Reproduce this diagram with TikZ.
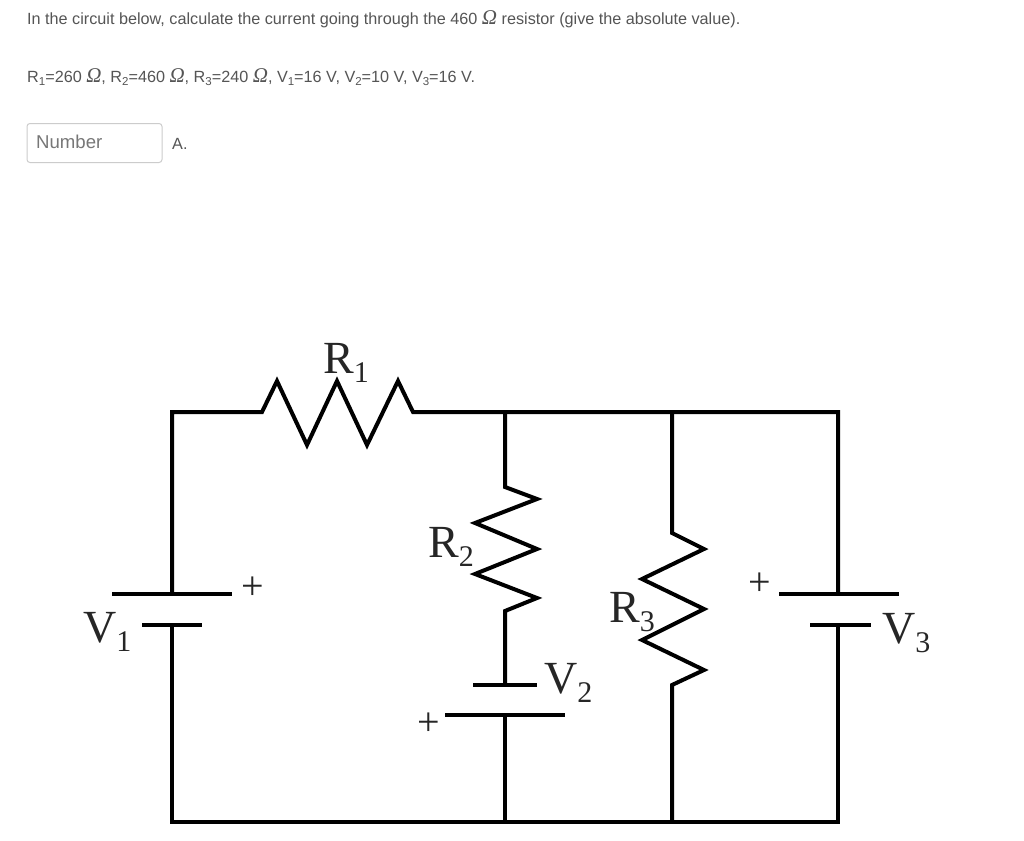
\documentclass[tikz,border=0pt]{standalone}
\usepackage{fontspec}
\setmainfont{Liberation Sans}
\newfontfamily\labfont{Liberation Serif}
\definecolor{txtgray}{HTML}{555555}
\definecolor{phgray}{HTML}{777777}
\definecolor{boxgray}{HTML}{CCCCCC}
\newcommand{\ohm}{{\labfont\itshape\fontsize{21}{18}\selectfont Ω}}
\newcommand{\lab}[2]{{\labfont\fontsize{46}{46}\selectfont #1\raisebox{-9.5pt}{\fontsize{30}{30}\selectfont #2}}}
\newcommand{\sbs}[1]{\raisebox{-3pt}{\fontsize{11.5}{11.5}\selectfont #1}}
\tikzset{
  wire/.style={line width=4pt,black,line join=miter},
  plate/.style={line width=4pt,black},
  txt/.style={anchor=base west,inner sep=0pt,text=txtgray,font=\fontsize{16.2}{18}\selectfont},
  ph/.style={anchor=base west,inner sep=0pt,text=phgray,font=\fontsize{18.6}{20}\selectfont},
  lbl/.style={anchor=base west,inner sep=0pt,text=black!85},
  plussign/.style={inner sep=0pt,text=black!85,font=\labfont\fontsize{40}{40}\selectfont},
  inputbox/.style={draw=boxgray,line width=1pt,rounded corners=3pt,minimum width=135pt,minimum height=39pt,inner sep=0pt,anchor=north west}
}
\begin{document}
\begin{tikzpicture}[x=1pt,y=-1pt]
\useasboundingbox[fill=white] (0,0) rectangle (1024,840);
% text
\node[txt] (q1) at (27,25) {In the circuit below, calculate the current going through the 460 \ohm\ resistor (give the absolute value).};
\node[txt] (q2) at (27,83) {R\sbs{1}=260 \ohm, R\sbs{2}=460 \ohm, R\sbs{3}=240 \ohm, V\sbs{1}=16 V, V\sbs{2}=10 V, V\sbs{3}=16 V.};
\node[inputbox] (box) at (26.5,123) {};
\node[ph] (num) at (36,148) {Number};
\node[txt] (unit) at (172,149) {A.};
% junctions
\coordinate (tl) at (172,412);
\coordinate (tm) at (505,412);
\coordinate (tn) at (672,412);
\coordinate (tr) at (838,412);
\coordinate (bl) at (172,822);
\coordinate (bm) at (505,822);
\coordinate (bn) at (672,822);
\coordinate (br) at (838,822);
% R1
\coordinate (r1a) at (262,412);
\coordinate (r1b) at (413,412);
% plates
\coordinate (v1t) at (172,594);
\coordinate (v1b) at (172,625);
\coordinate (v3t) at (838,594);
\coordinate (v3b) at (838,625);
\coordinate (v2t) at (505,685);
\coordinate (v2b) at (505,715);
\coordinate (r2a) at (505,487);
\coordinate (r2b) at (505,611);
\coordinate (r3a) at (672,533);
\coordinate (r3b) at (672,685);
% wires
\draw[wire] (v1t) -- (tl) -- (r1a) -- ++(15,-31) -- ++(30,64) -- ++(30,-64) -- ++(30,64) -- ++(31,-64) -- (r1b) -- (tr) -- (v3t);
\draw[wire] (v1b) -- (bl) -- (br) -- (v3b);
\draw[wire] (tm) -- (r2a) -- ++(32,12) -- ++(-62,24) -- ++(62,26) -- ++(-62,25) -- ++(62,24) -- (r2b) -- (v2t);
\draw[wire] (v2b) -- (bm);
\draw[wire] (tn) -- (r3a) -- ++(32,16) -- ++(-62,30) -- ++(62,30) -- ++(-62,31) -- ++(62,30) -- (r3b) -- (bn);
% plates
\draw[plate] (112,594) -- (232,594);
\draw[plate] (142,625) -- (202,625);
\draw[plate] (473,685) -- (537,685);
\draw[plate] (445,715) -- (565,715);
\draw[plate] (779,594) -- (899,594);
\draw[plate] (810,625) -- (871,625);
% labels
\node[lbl] (lr1) at (323,373) {\lab{R}{1}};
\node[lbl] (lr2) at (428,557) {\lab{R}{2}};
\node[lbl] (lr3) at (609,622) {\lab{R}{3}};
\node[lbl] (lv1) at (83,642) {\lab{V}{1}};
\node[lbl] (lv2) at (544,693) {\lab{V}{2}};
\node[lbl] (lv3) at (882,643) {\lab{V}{3}};
\node[plussign] (p1) at (253,588) {+};
\node[plussign] (p2) at (429,724) {+};
\node[plussign] (p3) at (760,584) {+};
\end{tikzpicture}
\end{document}
